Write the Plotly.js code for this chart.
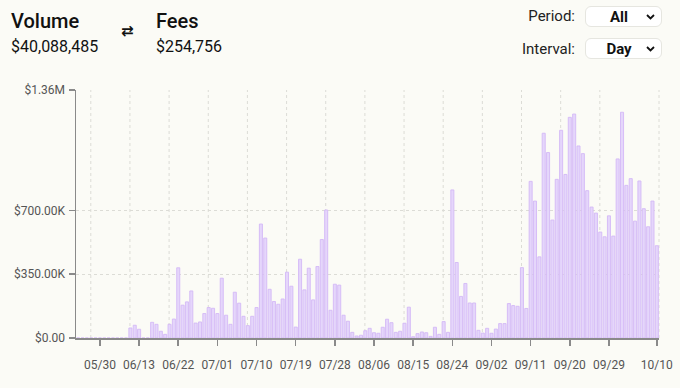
<!DOCTYPE html>
<html>
<head>
<meta charset="utf-8">
<script src="https://cdn.plot.ly/plotly-3.0.1.min.js"></script>
<style>
  html, body { margin: 0; padding: 0; background: #fbfbf6; }
  body { width: 680px; height: 388px; position: relative; overflow: hidden; font-family: Roboto, "Noto Sans", sans-serif; color: #111; }
  #chart { position: absolute; left: 0; top: 0; width: 680px; height: 388px; }
  .t { position: absolute; line-height: 1; white-space: nowrap; }
  .box { position: absolute; left: 585px; width: 77px; height: 21px; background: #ffffff; border: 1px solid #e6e6e0; border-radius: 6px; box-sizing: border-box; }
  .box .v { position: absolute; left: 0; width: 66px; text-align: center; font-weight: 700; font-size: 15px; line-height: 1; top: 3px; color: #111; }
  .box svg { position: absolute; right: 6px; top: 7px; }
</style>
</head>
<body>
<div id="chart"></div>
<div class="t" style="left:11px; top:11px; font-size:20px; font-weight:500;">Volume</div>
<div class="t" style="left:11px; top:38.5px; font-size:16px; font-weight:400;">$40,088,485</div>
<div class="t" style="left:121px; top:24px; font-size:15px; font-weight:700; font-family:'DejaVu Sans';">&#8644;</div>
<div class="t" style="left:156px; top:11px; font-size:20px; font-weight:500;">Fees</div>
<div class="t" style="left:156px; top:38.5px; font-size:16px; font-weight:400;">$254,756</div>
<div class="t" style="right:105px; top:9px; font-size:15px; color:#222;">Period:</div>
<div class="t" style="right:105px; top:41.5px; font-size:15px; color:#222;">Interval:</div>
<div class="box" style="top:6px;"><div class="v">All</div><svg width="9" height="6" viewBox="0 0 9 6"><path d="M1 1 L4.5 4.5 L8 1" fill="none" stroke="#111" stroke-width="1.8"/></svg></div>
<div class="box" style="top:38px;"><div class="v">Day</div><svg width="9" height="6" viewBox="0 0 9 6"><path d="M1 1 L4.5 4.5 L8 1" fill="none" stroke="#111" stroke-width="1.8"/></svg></div>
<script>
// Categories (days)
const dates = [
  '05/25','05/26','05/27','05/28','05/29','05/30',
  '06/05','06/06','06/07','06/08','06/09','06/10','06/11','06/12',
  '06/13','06/14','06/15','06/16','06/17','06/18','06/19','06/20','06/21','06/22','06/23','06/24','06/25','06/26','06/27','06/28','06/29','06/30',
  '07/01','07/02','07/03','07/04','07/05','07/06','07/07','07/08','07/09','07/10','07/11','07/12','07/13','07/14','07/15','07/16','07/17','07/18','07/19','07/20','07/21','07/22','07/23','07/24','07/25','07/26','07/27','07/28','07/29','07/30','07/31',
  '08/01','08/02','08/03','08/04','08/05','08/06','08/07','08/08','08/09','08/10','08/11','08/12','08/13','08/14','08/15','08/16','08/17','08/18','08/19','08/20','08/21','08/22','08/23','08/24','08/25','08/26','08/27','08/28','08/29','08/30','08/31',
  '09/01','09/02','09/03','09/04','09/05','09/06','09/07','09/08','09/09','09/10','09/11','09/12','09/13','09/14','09/15','09/16','09/17','09/18','09/19','09/20','09/21','09/22','09/23','09/24','09/25','09/26','09/27','09/28','09/29','09/30',
  '10/01','10/02','10/03','10/04','10/05','10/06','10/07','10/08','10/09','10/10'
];
// Daily volume in thousands of dollars
const volumeK = [
  0,0,0,0,0,0,
  0,0,0,0,0,0,55,70,
  48,0,0,86,75,37,20,75,104,385,180,198,258,82,88,134,167,163,
  134,328,125,75,251,191,119,68,119,167,625,548,267,200,185,214,361,284,60,432,264,383,209,392,540,702,152,295,290,125,92,
  31,11,15,40,53,29,26,59,103,84,31,37,81,169,7,24,33,29,9,59,20,90,31,812,414,228,299,192,192,42,27,
  53,26,49,79,79,189,178,174,386,162,859,751,445,1123,1017,647,870,1139,897,1210,1228,1053,1011,808,718,685,581,555,670,559,
  982,1238,837,874,641,861,709,610,751,506
];
// X tick labels shown
const xTickLabels = ['05/30','06/13','06/22','07/01','07/10','07/19','07/28','08/06','08/15','08/24','09/02','09/11','09/20','09/29','10/10'];
// Y ticks
const yTickVals = [0, 350000, 700000, 1360000];
const yTickText = ['$0.00', '$350.00K', '$700.00K', '$1.36M'];
const yMax = 1360000;

const volume = volumeK.map(v => v * 1000);

// vertical dashed grid lines (drawn slightly left of the tick marks, as in the source chart)
const gridColor = '#dcdcd6';
const shapes = [];
xTickLabels.slice(0, -1).forEach(lbl => {
  const i = dates.indexOf(lbl) - 2.1;
  shapes.push({type:'line', layer:'below', xref:'x', yref:'paper', x0:i, x1:i, y0:0, y1:1,
    line:{color:gridColor, width:1, dash:'3px,3px'}});
});
shapes.push({type:'line', layer:'below', xref:'paper', yref:'paper', x0:1, x1:1, y0:0, y1:1,
  line:{color:gridColor, width:1, dash:'3px,3px'}});

const trace = {
  type: 'bar',
  x: dates,
  y: volume,
  marker: { color: '#e5d6fb', line: { color: '#d4b9f6', width: 0.9 } },
  hoverinfo: 'x+y'
};

const layout = {
  width: 680, height: 388,
  margin: { l: 76, r: 21, t: 90, b: 50 },
  paper_bgcolor: 'rgba(0,0,0,0)',
  plot_bgcolor: 'rgba(0,0,0,0)',
  bargap: 0.3,
  showlegend: false,
  font: { family: 'Roboto, "Noto Sans", sans-serif', color: '#555', size: 12 },
  xaxis: {
    type: 'category',
    categoryorder: 'array', categoryarray: dates,
    range: [-0.5, dates.length - 0.5],
    tickmode: 'array', tickvals: xTickLabels, ticktext: xTickLabels,
    ticks: 'outside', ticklen: 6, tickwidth: 1.5, tickcolor: '#8a8a8a',
    showline: true, linecolor: '#8a8a8a', linewidth: 1.5,
    showgrid: false, zeroline: false,
    tickfont: { size: 12, color: '#555' },
    ticklabelstandoff: 9,
    fixedrange: true
  },
  yaxis: {
    range: [0, yMax],
    tickmode: 'array', tickvals: yTickVals, ticktext: yTickText,
    ticks: 'outside', ticklen: 6, tickwidth: 1.5, tickcolor: '#8a8a8a',
    showline: true, linecolor: '#8a8a8a', linewidth: 1.5,
    showgrid: true, gridcolor: gridColor, griddash: '3px,3px', gridwidth: 1,
    zeroline: false,
    tickfont: { size: 12, color: '#555' },
    ticklabelstandoff: 1,
    fixedrange: true
  },
  shapes: shapes
};

Plotly.newPlot('chart', [trace], layout, { displayModeBar: false, staticPlot: true });
</script>
</body>
</html>
